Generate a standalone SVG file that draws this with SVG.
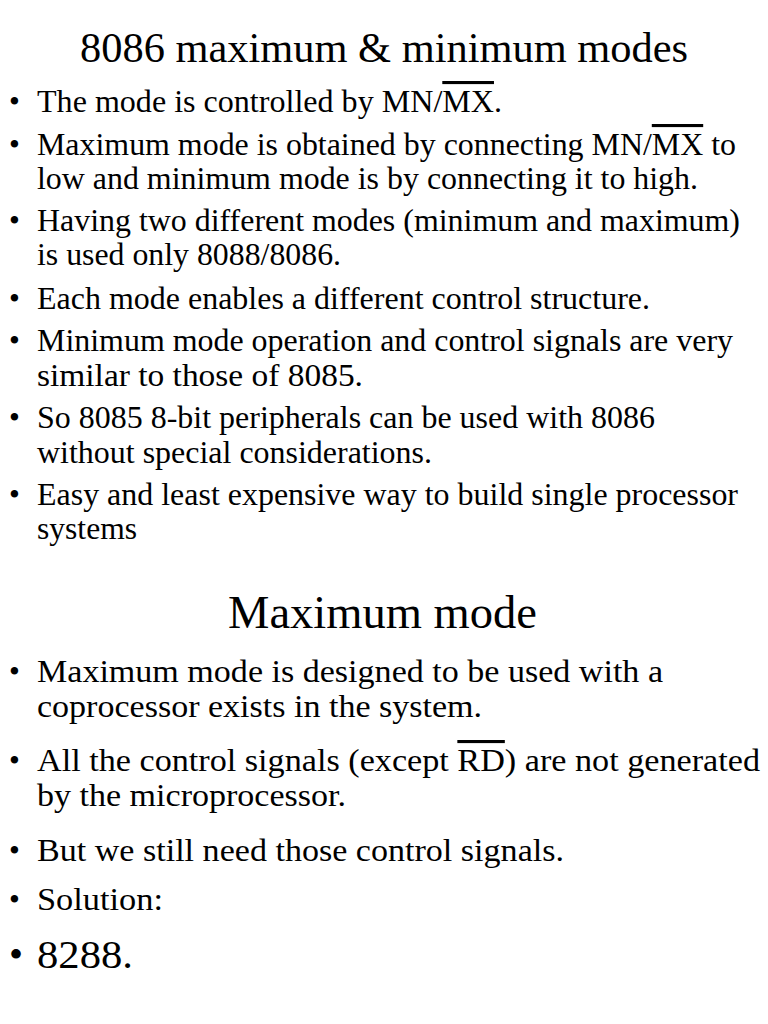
<svg xmlns="http://www.w3.org/2000/svg" width="768" height="1024" viewBox="0 0 768 1024" font-family="'Liberation Serif', Tinos, 'Times New Roman', Times, 'Nimbus Roman', serif">
<style>
text{font-family:'Liberation Serif',Tinos,'Times New Roman',Times,'Nimbus Roman',serif;fill:#000}
.t{font-size:43px}
.h{font-size:47px}
.b{font-size:31px}
.bb{font-size:40px}
.ol{text-decoration:overline}
</style>
<rect width="768" height="1024" fill="#fff"/>
<g id="title"><text class="t" x="80" y="62" textLength="608" lengthAdjust="spacingAndGlyphs">8086 maximum &amp; minimum modes</text></g>
<g id="section1">
<text class="b" x="9" y="112">•</text>
<text class="b" x="37" y="112" textLength="465" lengthAdjust="spacingAndGlyphs">The mode is controlled by MN/<tspan class="ol">MX</tspan>.</text>
<text class="b" x="9" y="155">•</text>
<text class="b" x="37" y="155" textLength="699" lengthAdjust="spacingAndGlyphs">Maximum mode is obtained by connecting MN/<tspan class="ol">MX</tspan> to</text>
<text class="b" x="37" y="189" textLength="661" lengthAdjust="spacingAndGlyphs">low and minimum mode is by connecting it to high.</text>
<text class="b" x="9" y="231">•</text>
<text class="b" x="37" y="231" textLength="703" lengthAdjust="spacingAndGlyphs">Having two different modes (minimum and maximum)</text>
<text class="b" x="37" y="265" textLength="304" lengthAdjust="spacingAndGlyphs">is used only 8088/8086.</text>
<text class="b" x="9" y="309">•</text>
<text class="b" x="37" y="309" textLength="613" lengthAdjust="spacingAndGlyphs">Each mode enables a different control structure.</text>
<text class="b" x="9" y="351">•</text>
<text class="b" x="37" y="351" textLength="696" lengthAdjust="spacingAndGlyphs">Minimum mode operation and control signals are very</text>
<text class="b" x="37" y="386" textLength="326" lengthAdjust="spacingAndGlyphs">similar to those of 8085.</text>
<text class="b" x="9" y="428">•</text>
<text class="b" x="37" y="428" textLength="618" lengthAdjust="spacingAndGlyphs">So 8085 8-bit peripherals can be used with 8086</text>
<text class="b" x="37" y="463" textLength="395" lengthAdjust="spacingAndGlyphs">without special considerations.</text>
<text class="b" x="9" y="505">•</text>
<text class="b" x="37" y="505" textLength="701" lengthAdjust="spacingAndGlyphs">Easy and least expensive way to build single processor</text>
<text class="b" x="37" y="539" textLength="100" lengthAdjust="spacingAndGlyphs">systems</text>
</g>
<g id="header2"><text class="h" x="228" y="628" textLength="309" lengthAdjust="spacingAndGlyphs">Maximum mode</text></g>
<g id="section2">
<text class="b" x="9" y="682">•</text>
<text class="b" x="37" y="682" textLength="626" lengthAdjust="spacingAndGlyphs">Maximum mode is designed to be used with a</text>
<text class="b" x="37" y="717" textLength="445" lengthAdjust="spacingAndGlyphs">coprocessor exists in the system.</text>
<text class="b" x="9" y="771">•</text>
<text class="b" x="37" y="771" textLength="723" lengthAdjust="spacingAndGlyphs">All the control signals (except <tspan class="ol">RD</tspan>) are not generated</text>
<text class="b" x="37" y="806" textLength="309" lengthAdjust="spacingAndGlyphs">by the microprocessor.</text>
<text class="b" x="9" y="861">•</text>
<text class="b" x="37" y="861" textLength="527" lengthAdjust="spacingAndGlyphs">But we still need those control signals.</text>
<text class="b" x="9" y="910">•</text>
<text class="b" x="37" y="910" textLength="126" lengthAdjust="spacingAndGlyphs">Solution:</text>
<text class="bb" x="9" y="968">•</text>
<text class="bb" x="37" y="968" textLength="96" lengthAdjust="spacingAndGlyphs">8288.</text>
</g>
</svg>
